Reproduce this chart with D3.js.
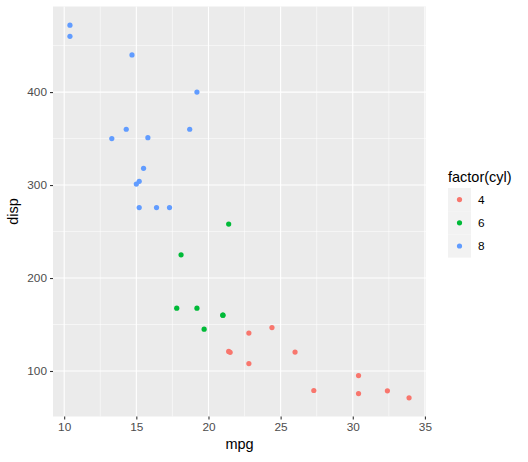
<!DOCTYPE html>
<html>
<head>
<meta charset="utf-8">
<script src="https://cdn.jsdelivr.net/npm/d3@7"></script>
<style>
body { margin: 0; background: #fff; }
text { font-family: Arial, "Liberation Sans", sans-serif; }
</style>
</head>
<body>
<div id="chart"></div>
<script>
// mtcars: mpg, disp, cyl
const mpg  = [21.0, 21.0, 22.8, 21.4, 18.7, 18.1, 14.3, 24.4, 22.8, 19.2, 17.8, 16.4, 17.3, 15.2, 10.4, 10.4,
              14.7, 32.4, 30.4, 33.9, 21.5, 15.5, 15.2, 13.3, 19.2, 27.3, 26.0, 30.4, 15.8, 19.7, 15.0, 21.4];
const disp = [160, 160, 108, 258, 360, 225, 360, 146.7, 140.8, 167.6, 167.6, 275.8, 275.8, 275.8, 472, 460,
              440, 78.7, 75.7, 71.1, 120.1, 318, 304, 350, 400, 79, 120.3, 95.1, 351, 145, 301, 121];
const cyl  = [6, 6, 4, 6, 8, 6, 8, 4, 4, 6, 6, 8, 8, 8, 8, 8, 8, 4, 4, 4, 4, 8, 8, 8, 8, 4, 4, 4, 8, 6, 8, 4];
const cylLevels = ["4", "6", "8"];
const xTicks = [10, 15, 20, 25, 30, 35];
const yTicks = [100, 200, 300, 400];

const W = 528, H = 462;
const panel = {left: 53, right: 426, top: 6.5, bottom: 416.5};

const svg = d3.select("#chart").append("svg")
	.attr("width", W).attr("height", H);

// ggplot style 5% expansion
const xExt = d3.extent(mpg), yExt = d3.extent(disp);
const xPad = (xExt[1] - xExt[0]) * 0.05, yPad = (yExt[1] - yExt[0]) * 0.05;
const x = d3.scaleLinear().domain([xExt[0] - xPad, xExt[1] + xPad]).range([panel.left, panel.right]);
const y = d3.scaleLinear().domain([yExt[0] - yPad, yExt[1] + yPad]).range([panel.bottom, panel.top]);
const color = d3.scaleOrdinal().domain(cylLevels).range(["#F8766D", "#00BA38", "#619CFF"]);

svg.append("rect")
	.attr("x", panel.left).attr("y", panel.top)
	.attr("width", panel.right - panel.left).attr("height", panel.bottom - panel.top)
	.attr("fill", "#EBEBEB");

// minor grid
const xMinor = xTicks.slice(0, -1).map(d => d + 2.5).filter(d => d >= x.domain()[0] && d <= x.domain()[1]);
const yMinor = [50, 150, 250, 350, 450].filter(d => d >= y.domain()[0] && d <= y.domain()[1]);
const grid = svg.append("g");
grid.selectAll(".xminor").data(xMinor).join("line")
	.attr("x1", d => x(d)).attr("x2", d => x(d))
	.attr("y1", panel.top).attr("y2", panel.bottom)
	.attr("stroke", "#fff").attr("stroke-width", 0.55);
grid.selectAll(".yminor").data(yMinor).join("line")
	.attr("y1", d => y(d)).attr("y2", d => y(d))
	.attr("x1", panel.left).attr("x2", panel.right)
	.attr("stroke", "#fff").attr("stroke-width", 0.55);
// major grid
grid.selectAll(".xmajor").data(xTicks).join("line")
	.attr("x1", d => x(d)).attr("x2", d => x(d))
	.attr("y1", panel.top).attr("y2", panel.bottom)
	.attr("stroke", "#fff").attr("stroke-width", 1.1);
grid.selectAll(".ymajor").data(yTicks).join("line")
	.attr("y1", d => y(d)).attr("y2", d => y(d))
	.attr("x1", panel.left).attr("x2", panel.right)
	.attr("stroke", "#fff").attr("stroke-width", 1.1);

// axes
const xAxis = svg.append("g")
	.attr("transform", `translate(0, ${panel.bottom})`)
	.call(d3.axisBottom(x).tickValues(xTicks).tickSize(3).tickPadding(3));
const yAxis = svg.append("g")
	.attr("transform", `translate(${panel.left}, 0)`)
	.call(d3.axisLeft(y).tickValues(yTicks).tickSize(3).tickPadding(3));
[xAxis, yAxis].forEach(a => {
	a.select(".domain").remove();
	a.selectAll(".tick line").attr("stroke", "#333333").attr("stroke-width", 1.1);
	a.selectAll(".tick text").attr("fill", "#4D4D4D").style("font-size", "11.8px")
		.style("font-family", "Arial, 'Liberation Sans', sans-serif");
});

// points
svg.append("g")
	.selectAll("circle")
	.data(mpg.map((m, i) => [m, disp[i], String(cyl[i])]))
	.join("circle")
	.attr("cx", d => x(d[0]))
	.attr("cy", d => y(d[1]))
	.attr("r", 2.6)
	.attr("fill", d => color(d[2]));

// axis titles
svg.append("text")
	.attr("x", (panel.left + panel.right) / 2).attr("y", 448.5)
	.attr("text-anchor", "middle").style("font-size", "14.5px").text("mpg");
svg.append("text")
	.attr("transform", `translate(17.5, ${(panel.top + panel.bottom) / 2}) rotate(-90)`)
	.attr("text-anchor", "middle").style("font-size", "14.5px").text("disp");

// legend
const lg = svg.append("g").attr("transform", "translate(448, 0)");
lg.append("text").attr("x", 0).attr("y", 182).style("font-size", "14.5px").text("factor(cyl)");
const keyH = 23.2, keyTop = 188;
lg.selectAll("rect.key").data(cylLevels).join("rect")
	.attr("x", 0).attr("y", (d, i) => keyTop + i * keyH)
	.attr("width", 23).attr("height", keyH)
	.attr("fill", "#F2F2F2");
lg.selectAll("circle").data(cylLevels).join("circle")
	.attr("cx", 11.5).attr("cy", (d, i) => keyTop + i * keyH + keyH / 2)
	.attr("r", 2.6).attr("fill", d => color(d));
lg.selectAll("text.lab").data(cylLevels).join("text")
	.attr("class", "lab")
	.attr("x", 30).attr("y", (d, i) => keyTop + i * keyH + keyH / 2 + 4)
	.style("font-size", "11.8px").attr("fill", "#000").text(d => d);
</script>
</body>
</html>
